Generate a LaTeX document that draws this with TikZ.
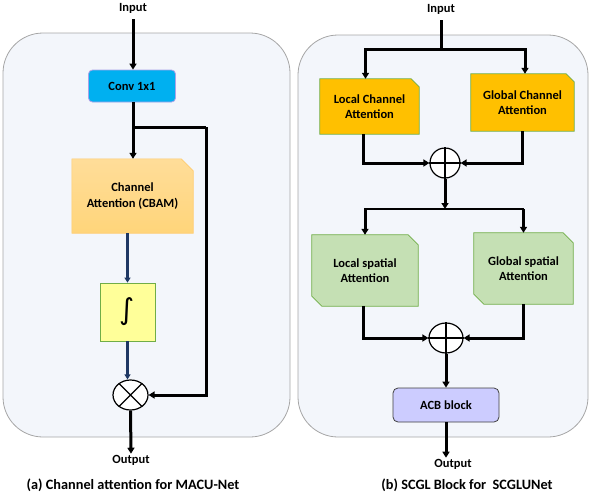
\documentclass[tikz,border=0pt]{standalone}
\usepackage{fontspec}
\setmainfont{Carlito}
\newfontfamily\djv{DejaVu Sans}
\usetikzlibrary{arrows.meta,shapes.geometric,backgrounds}
\definecolor{panelfill}{HTML}{F3F6FB}
\definecolor{panelline}{HTML}{A6A6A6}
\definecolor{convfill}{HTML}{00B0F0}
\definecolor{convline}{HTML}{A9A2E8}
\definecolor{cbamtop}{HTML}{FFDD99}
\definecolor{cbambot}{HTML}{FFD57A}
\definecolor{gold}{HTML}{FFC000}
\definecolor{greenline}{HTML}{70AD47}
\definecolor{greenfill}{HTML}{C5E0B4}
\definecolor{intfill}{HTML}{FFFF99}
\definecolor{acbfill}{HTML}{CCCCFF}
\definecolor{navy}{HTML}{1F3864}
\newcommand\cutNE[3]{\path[#2] (#1.north west) -- ([xshift=-#3pt]#1.north east) -- ([yshift=-#3pt]#1.north east) -- (#1.south east) -- (#1.south west) -- cycle;}
\newcommand\cutTwo[3]{\path[#2] (#1.north west) -- ([xshift=-#3pt]#1.north east) -- ([yshift=-#3pt]#1.north east) -- (#1.south east) -- ([xshift=#3pt]#1.south west) -- ([yshift=#3pt]#1.south west) -- cycle;}
\begin{document}
\begin{tikzpicture}[x=1pt,y=-1pt,
  lbl/.style={font=\bfseries\fontsize{12.5}{14.5}\selectfont, align=center, inner sep=1pt},
  captxt/.style={font=\bfseries\fontsize{14.3}{16}\selectfont, inner sep=1pt},
  box/.style={lbl, minimum width=#1, inner sep=0pt},
  arr/.style={line width=3pt, -{Triangle[length=6pt,width=7pt]}},
  ln/.style={line width=3pt},
  barr/.style={line width=2.2pt, navy, -{Triangle[length=5pt,width=6pt]}},
  opnode/.style={ellipse, draw, line width=1.2pt, fill=white, minimum width=#1, minimum height=30pt, inner sep=0pt},
  panel/.style={fill=panelfill, draw=panelline, line width=0.8pt, rounded corners=40pt}]
\useasboundingbox (0,0) rectangle (590,493);
% panels
\begin{scope}[on background layer]
\path[panel] (3,33) rectangle (290,437);
\path[panel] (298,35) rectangle (588,437);
\end{scope}

% ---------- (a) ----------
\node[lbl] (in1) at (133,8) {Input};
\node[lbl, minimum width=87pt, minimum height=32pt, fill=convfill, draw=convline, line width=0.8pt, rounded corners=4pt] (conv) at (132,86) {Conv 1x1};
\node[lbl, minimum width=121pt, minimum height=74pt] (cbam) at (132.5,196) {Channel\\[1pt]Attention (CBAM)};
\node[lbl, minimum width=55pt, minimum height=58pt, fill=intfill, draw=greenline, line width=0.8pt, font=\djv\fontsize{29}{29}\selectfont] (int) at (127.5,312) {∫};
\node[opnode=35pt] (mul) at (130.5,395) {};
\draw[line width=1.2pt] (mul.45) -- (mul.225) (mul.135) -- (mul.315);
\node[lbl] (out1) at (131,460) {Output};
\node[captxt] (capa) at (133,485) {(a) Channel attention for MACU-Net};
\coordinate (br) at (133,127);
\coordinate (rt) at (206,127);

\begin{scope}[on background layer]
\cutNE{cbam}{top color=cbamtop, bottom color=cbambot, draw=cbambot!90!orange, line width=0.6pt}{12}
\end{scope}

\draw[arr] (in1.south) ++(0,5) -- (conv.north -| in1);
\draw[arr] (conv.south -| br) -- (cbam.north -| br);
\draw[ln] (br) -- (rt);
\draw[arr] (rt) |- (mul.east);
\draw[barr] (cbam.south -| int) -- (int.north);
\draw[barr] (int.south) -- (mul.north -| int);
\draw[arr] (mul.south) -- (out1.north);

% ---------- (b) ----------
\node[lbl] (in2) at (441,9) {Input};
\coordinate (s1) at (441,49);
\node[box=99pt, minimum height=55pt] (lca) at (369.5,106.5) {Local Channel\\Attention};
\node[box=103pt, minimum height=57pt] (gca) at (522.5,102.5) {Global Channel\\Attention};
\node[opnode=30pt] (add1) at (445,163) {};
\draw[line width=1.2pt] (add1.north) -- (add1.south) (add1.west) -- (add1.east);
\coordinate (s2) at (445,209);
\node[box=106pt, minimum height=71pt] (lsa) at (365,270.5) {Local spatial\\Attention};
\node[box=99pt, minimum height=71pt] (gsa) at (523.5,268.5) {Global spatial\\Attention};
\node[opnode=34pt] (add2) at (446,338) {};
\draw[line width=1.2pt] (add2.north) -- (add2.south) (add2.west) -- (add2.east);
\node[lbl, minimum width=106pt, minimum height=34pt, fill=acbfill, draw=black!75, line width=0.8pt, rounded corners=5pt] (acb) at (446,405) {ACB block};
\node[lbl] (out2) at (453,464) {Output};
\node[captxt] (capb) at (467,485) {(b) SCGL Block for\ \ SCGLUNet};

\begin{scope}[on background layer]
\cutNE{lca}{fill=gold, draw=greenline, line width=0.8pt}{8}
\cutNE{gca}{fill=gold, draw=greenline, line width=0.8pt}{8}
\cutTwo{lsa}{fill=greenfill, draw=greenline, line width=0.8pt}{10}
\cutTwo{gsa}{fill=greenfill, draw=greenline, line width=0.8pt}{10}
\end{scope}

\draw[ln] (in2.south) ++(0,5) -- (s1);
\draw[arr] (s1) -| ([xshift=-4pt]lca.north);
\draw[arr] (s1) -| ([xshift=2.5pt]gca.north);
\draw[arr] ([xshift=-6.5pt]lca.south) |- (add1.west);
\draw[arr] (gca.south) |- (add1.east);
\draw[arr] (add1.south) -- (s2);
\draw[line width=2pt] ([xshift=-1pt]lsa.north |- s2) -- ([xshift=0.5pt]gsa.north |- s2);
\draw[arr] (s2 -| lsa) -- (lsa.north);
\draw[arr] (s2 -| gsa) -- (gsa.north);
\draw[arr] ([xshift=-2pt]lsa.south) |- (add2.west);
\draw[arr] ([xshift=-0.5pt]gsa.south) |- (add2.east);
\draw[arr] (add2.south) -- (acb.north);
\draw[arr] (acb.south) -- (acb.south |- out2.north);
\end{tikzpicture}
\end{document}
